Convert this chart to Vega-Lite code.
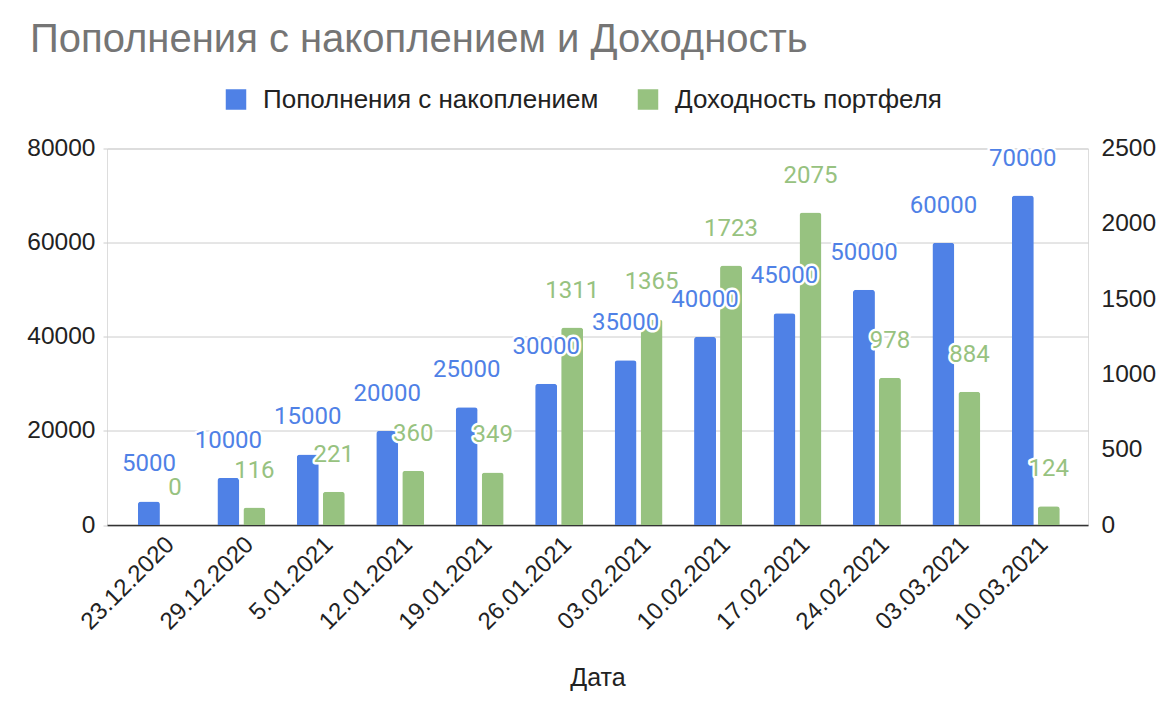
{
  "$schema": "https://vega.github.io/schema/vega-lite/v6.json",
  "width": 981,
  "height": 376.5,
  "autosize": {"type": "none"},
  "padding": {"left": 107, "top": 148.5, "right": 86, "bottom": 185},
  "background": "white",
  "title": {
    "text": "Пополнения с накоплением и Доходность",
    "anchor": "start",
    "frame": "group",
    "dx": -77,
    "dy": 25,
    "font": "Liberation Sans",
    "fontSize": 40,
    "fontWeight": "normal",
    "color": "#757575",
    "baseline": "alphabetic",
    "offset": 20
  },
  "data": {
    "values": [
      {"date": "23.12.2020", "series": "Пополнения с накоплением", "value": 5000},
      {"date": "29.12.2020", "series": "Пополнения с накоплением", "value": 10000},
      {"date": "5.01.2021", "series": "Пополнения с накоплением", "value": 15000},
      {"date": "12.01.2021", "series": "Пополнения с накоплением", "value": 20000},
      {"date": "19.01.2021", "series": "Пополнения с накоплением", "value": 25000},
      {"date": "26.01.2021", "series": "Пополнения с накоплением", "value": 30000},
      {"date": "03.02.2021", "series": "Пополнения с накоплением", "value": 35000},
      {"date": "10.02.2021", "series": "Пополнения с накоплением", "value": 40000},
      {"date": "17.02.2021", "series": "Пополнения с накоплением", "value": 45000},
      {"date": "24.02.2021", "series": "Пополнения с накоплением", "value": 50000},
      {"date": "03.03.2021", "series": "Пополнения с накоплением", "value": 60000},
      {"date": "10.03.2021", "series": "Пополнения с накоплением", "value": 70000},
      {"date": "23.12.2020", "series": "Доходность портфеля", "value": 0},
      {"date": "29.12.2020", "series": "Доходность портфеля", "value": 116},
      {"date": "5.01.2021", "series": "Доходность портфеля", "value": 221},
      {"date": "12.01.2021", "series": "Доходность портфеля", "value": 360},
      {"date": "19.01.2021", "series": "Доходность портфеля", "value": 349},
      {"date": "26.01.2021", "series": "Доходность портфеля", "value": 1311},
      {"date": "03.02.2021", "series": "Доходность портфеля", "value": 1365},
      {"date": "10.02.2021", "series": "Доходность портфеля", "value": 1723},
      {"date": "17.02.2021", "series": "Доходность портфеля", "value": 2075},
      {"date": "24.02.2021", "series": "Доходность портфеля", "value": 978},
      {"date": "03.03.2021", "series": "Доходность портфеля", "value": 884},
      {"date": "10.03.2021", "series": "Доходность портфеля", "value": 124}
    ]
  },
  "encoding": {
    "x": {
      "field": "date",
      "type": "nominal",
      "sort": null,
      "title": "Дата",
      "scale": {"paddingInner": 0, "paddingOuter": 0.174, "align": 0.55},
      "axis": {
        "labelAngle": -45,
        "labelFont": "Liberation Sans",
        "labelFontSize": 24,
        "labelColor": "#222222",
        "labelPadding": 7,
        "ticks": false,
        "domain": true,
        "domainColor": "#333333",
        "domainWidth": 1.5,
        "grid": false,
        "titleFont": "Liberation Sans",
        "titleFontSize": 25,
        "titleFontWeight": "normal",
        "titleColor": "#222222",
        "titleBaseline": "alphabetic",
        "titleY": 160
      }
    },
    "xOffset": {
      "field": "series",
      "type": "nominal",
      "scale": {
        "domain": ["Пополнения с накоплением", "Доходность портфеля"],
        "paddingInner": 0.154,
        "paddingOuter": 0.605
      }
    }
  },
  "layer": [
    {
      "transform": [{"filter": "datum.series === 'Пополнения с накоплением'"}],
      "mark": {"type": "bar", "cornerRadiusEnd": 3},
      "encoding": {
        "y": {
          "field": "value",
          "type": "quantitative",
          "scale": {"domain": [0, 80000], "nice": false},
          "axis": {
            "orient": "left",
            "title": null,
            "values": [0, 20000, 40000, 60000, 80000],
            "format": "d",
            "labelFont": "Liberation Sans",
            "labelFontSize": 24.5,
            "labelColor": "#222222",
            "domain": false,
            "ticks": true,
            "tickSize": 4,
            "tickColor": "#cccccc",
            "labelPadding": 8,
            "grid": true,
            "gridColor": "#cccccc"
          }
        },
        "color": {
          "field": "series",
          "type": "nominal",
          "scale": {
            "domain": ["Пополнения с накоплением", "Доходность портфеля"],
            "range": ["#4f81e6", "#97c280"]
          },
          "legend": {
            "orient": "none",
            "legendX": 116,
            "legendY": -62,
            "direction": "horizontal",
            "title": null,
            "symbolType": "square",
            "symbolSize": 420,
            "symbolStrokeWidth": 0,
            "labelFont": "Liberation Sans",
            "labelFontSize": 26,
            "labelColor": "#222222",
            "labelOffset": 14,
            "labelLimit": 0,
            "columnPadding": 36,
            "padding": 0
          }
        }
      }
    },
    {
      "transform": [{"filter": "datum.series === 'Доходность портфеля'"}],
      "mark": {"type": "bar", "cornerRadiusEnd": 3},
      "encoding": {
        "y": {
          "field": "value",
          "type": "quantitative",
          "scale": {"domain": [0, 2500], "nice": false},
          "axis": {
            "orient": "right",
            "title": null,
            "values": [0, 500, 1000, 1500, 2000, 2500],
            "format": "d",
            "labelFont": "Liberation Sans",
            "labelFontSize": 24.5,
            "labelColor": "#222222",
            "domain": false,
            "ticks": false,
            "labelPadding": 13,
            "grid": false
          }
        },
        "color": {
          "field": "series",
          "type": "nominal",
          "scale": {
            "domain": ["Пополнения с накоплением", "Доходность портфеля"],
            "range": ["#4f81e6", "#97c280"]
          }
        }
      }
    },
    {
      "transform": [{"filter": "datum.series === 'Пополнения с накоплением'"}],
      "mark": {"type": "text", "font": "Roboto", "fontSize": 24, "baseline": "alphabetic", "dy": -30, "fill": "white", "stroke": "white", "strokeWidth": 5, "strokeJoin": "round"},
      "encoding": {
        "y": {"field": "value", "type": "quantitative", "scale": {"domain": [0, 80000], "nice": false}, "axis": null},
        "text": {"field": "value", "type": "quantitative", "format": "d"}
      }
    },
    {
      "transform": [{"filter": "datum.series === 'Доходность портфеля'"}],
      "mark": {"type": "text", "font": "Roboto", "fontSize": 24, "baseline": "alphabetic", "dy": -30, "fill": "white", "stroke": "white", "strokeWidth": 5, "strokeJoin": "round"},
      "encoding": {
        "y": {"field": "value", "type": "quantitative", "scale": {"domain": [0, 2500], "nice": false}, "axis": null},
        "text": {"field": "value", "type": "quantitative", "format": "d"}
      }
    },
    {
      "transform": [{"filter": "datum.series === 'Пополнения с накоплением'"}],
      "mark": {"type": "text", "font": "Roboto", "fontSize": 24, "baseline": "alphabetic", "dy": -30, "fill": "#4f81e6"},
      "encoding": {
        "y": {"field": "value", "type": "quantitative", "scale": {"domain": [0, 80000], "nice": false}, "axis": null},
        "text": {"field": "value", "type": "quantitative", "format": "d"}
      }
    },
    {
      "transform": [{"filter": "datum.series === 'Доходность портфеля'"}],
      "mark": {"type": "text", "font": "Roboto", "fontSize": 24, "baseline": "alphabetic", "dy": -30, "fill": "#97c280"},
      "encoding": {
        "y": {"field": "value", "type": "quantitative", "scale": {"domain": [0, 2500], "nice": false}, "axis": null},
        "text": {"field": "value", "type": "quantitative", "format": "d"}
      }
    }
  ],
  "resolve": {"scale": {"y": "independent"}}
}
